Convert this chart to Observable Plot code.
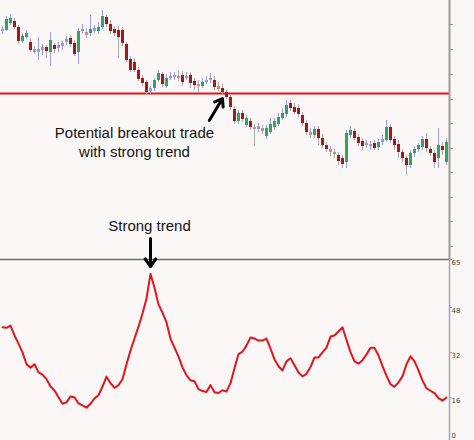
<!DOCTYPE html>
<html><head><meta charset="utf-8">
<script src="https://cdn.jsdelivr.net/npm/d3@7"></script>
<script src="https://cdn.jsdelivr.net/npm/@observablehq/plot@0.6"></script>
<style>
html,body{margin:0;padding:0;background:#fcf7f7;}
#chart{width:474px;height:440px;overflow:hidden;background:#fcf7f7;}
#chart svg{display:block;}
</style></head><body><div id="chart"></div>
<script>
// ---- data (price in chart units, one entry per bar) ----
const open = [
229,230,237,239,233,219,223,218,211,208,
210,213,208,215,212,214,218,222,217,208,
229,228,227,229,229,233,243,236,231,230,
230,216,201,198,190,182,178,169,172,180,
186,174,182,183,184,185,182,185,179,176,
174,178,180,180,174,172,168,163,151,139,
147,135,139,133,131,132,124,128,133,136,
142,146,157,153,152,145,137,128,125,131,
122,115,111,108,105,102,98,125,129,123,
119,115,114,117,113,118,120,133,121,116,
108,102,95,107,111,113,121,111,107,102,
114,98];
const close = [
231,241,242,233,219,224,227,210,208,211,
213,209,220,211,215,217,221,216,206,229,
231,225,231,232,233,244,236,229,227,223,
217,200,190,190,181,177,168,172,180,187,
176,182,184,185,182,178,184,177,175,174,
178,180,182,173,171,168,163,153,139,147,
141,142,133,131,134,129,132,136,139,143,
147,155,152,148,146,137,128,125,131,122,
115,111,108,106,99,96,127,130,122,117,
114,117,116,112,118,121,133,120,115,108,
102,95,107,111,115,121,112,107,98,115,
110,118];
const high = [
234,244,246,242,235,227,230,222,214,223,
216,215,228,217,218,219,224,225,220,232,
236,232,245,235,238,250,245,240,234,234,
233,218,204,202,193,185,180,174,182,190,
188,186,188,188,190,189,188,188,182,180,
182,184,187,184,178,176,170,165,154,150,
150,145,142,136,137,135,135,142,142,147,
152,160,160,157,156,148,140,132,134,134,
126,118,114,111,108,105,130,134,132,126,
122,120,119,120,121,125,140,136,124,120,
111,105,110,114,117,124,127,114,110,132,
118,122];
const low = [
226,229,235,231,216,217,221,208,206,200,
205,202,194,207,208,210,215,213,204,196,
226,222,224,227,226,231,233,226,224,202,
214,198,188,188,179,174,166,166,169,178,
173,172,180,180,179,174,180,172,170,168,
172,176,177,170,169,166,161,150,136,136,
138,133,130,114,128,126,121,126,130,134,
140,143,149,146,143,134,125,122,122,115,
112,108,104,102,95,92,92,122,120,114,
110,112,110,110,110,115,118,117,110,102,
98,85,92,103,108,110,108,104,92,92,
105,95];
const adx = [
41.0,40.8,41.6,38.1,35.2,32.1,27.9,26.7,27.9,25.0,
24.2,22.6,20.0,18.6,16.2,13.9,14.4,16.5,16.2,14.0,
13.3,12.5,13.9,15.8,16.9,20.0,23.5,21.2,19.5,20.5,
22.6,27.9,32.8,37.0,41.2,45.9,51.2,59.9,55.0,49.1,
46.2,42.7,37.0,33.8,30.7,26.8,24.0,22.2,21.9,19.1,
18.4,18.1,20.5,18.0,17.7,18.7,18.2,21.2,26.5,31.5,
32.4,34.5,37.4,37.0,36.3,36.3,37.0,33.4,29.6,27.2,
25.7,28.9,30.0,27.5,25.0,23.6,24.5,26.9,30.3,30.3,
32.1,33.8,37.7,38.1,39.5,41.0,36.5,32.2,28.9,28.1,
29.3,31.4,33.7,33.7,31.0,27.2,23.8,20.8,19.9,21.5,
23.6,27.9,30.7,28.9,25.7,22.1,19.4,18.5,17.7,15.9,
15.0,16.1];
const priceTicks = [14, 39, 63, 88, 112, 137, 161, 186, 211, 236];
const adxTicks = [0, 16, 32, 48, 65];
const breakoutLevel = 167;
const breakoutBar = 55;
const mainNote = "Potential breakout trade\nwith strong trend";
const adxNote = "Strong trend";

// ---- styling ----
const RED = "#e3141b";
const UP = "#35a263", DOWN = "#a3171d", UP_SMALL = "#8d9fd8", DOWN_SMALL = "#c98a8a";
const WICK_UP = "#9c9ce2", WICK_DOWN = "#a9a9a9";
const FONT = "Liberation Sans, Arial, sans-serif";

const bars = open.map((o, i) => ({i, open: o, high: high[i], low: low[i], close: close[i], adx: adx[i]}));
const lastBar = bars.length - 1;
const xDomain = [-0.5, lastBar + 0.75];
const bodyColor = d => {
  const up = d.close >= d.open, small = Math.abs(d.close - d.open) <= 3;
  return up ? (small ? UP_SMALL : UP) : (small ? DOWN_SMALL : DOWN);
};

const priceChart = Plot.plot({
  width: 474, height: 259,
  marginLeft: 0, marginRight: 25, marginTop: 0, marginBottom: 0,
  x: {domain: xDomain, axis: null},
  y: {domain: [1, 260], axis: "right", ticks: priceTicks, tickSize: 3, tickFormat: () => "", label: null},
  color: {type: "identity"},
  style: {background: "transparent", color: "#9a9a9a", overflow: "visible"},
  marks: [
    Plot.ruleY([breakoutLevel], {stroke: RED, strokeWidth: 2}),
    Plot.ruleX(bars, {x: "i", y1: "low", y2: "high", stroke: d => d.close >= d.open ? WICK_UP : WICK_DOWN, strokeWidth: 1}),
    Plot.ruleX(bars, {x: "i", y1: "open", y2: "close", stroke: bodyColor, strokeWidth: 3}),
    Plot.ruleX([xDomain[1]], {stroke: "#9a9a9a", strokeWidth: 2}),
    Plot.arrow([{}], {x1: breakoutBar - 3.3, y1: breakoutLevel - 27, x2: breakoutBar, y2: breakoutLevel - 5,
      stroke: "#000", strokeWidth: 3, headLength: 9, headAngle: 70}),
    Plot.text([mainNote], {x: breakoutBar - 22, y: breakoutLevel - 47.5, text: d => d,
      fontSize: 15, fontFamily: FONT, fill: "#141414", lineHeight: 1.3})
  ]
});

const peakBar = d3.maxIndex(adx);
const peak = adx[peakBar];
const adxChart = Plot.plot({
  width: 474, height: 181,
  marginLeft: 0, marginRight: 25, marginTop: 0, marginBottom: 0,
  x: {domain: xDomain, axis: null},
  y: {domain: [0, 65], range: [183.5, 0], axis: "right", ticks: adxTicks, tickSize: 2, tickFormat: () => "", label: null},
  style: {background: "transparent", color: "#9a9a9a", overflow: "visible"},
  marks: [
    Plot.ruleY([d3.max(adxTicks)], {stroke: "#6b6b6b", strokeWidth: 1.5}),
    Plot.ruleX([xDomain[1]], {stroke: "#a5a5a5", strokeWidth: 1.5}),
    Plot.line(bars, {x: "i", y: "adx", stroke: RED, strokeWidth: 2}),
    Plot.text(adxTicks.filter(d => d > 0), {x: xDomain[1], y: d => d, text: d => String(d), dx: 2, dy: 3,
      textAnchor: "start", fontSize: 7, fontFamily: "DejaVu Sans, sans-serif", fill: "#444"}),
    Plot.text(adxTicks.filter(d => d === 0), {x: xDomain[1], y: d => d, text: d => String(d), dx: 2, dy: -7.5,
      textAnchor: "start", fontSize: 7, fontFamily: "DejaVu Sans, sans-serif", fill: "#444"}),
    Plot.arrow([{}], {x1: peakBar, y1: peak + 12.5, x2: peakBar, y2: peak + 2.6,
      stroke: "#000", strokeWidth: 3, headLength: 8, headAngle: 70}),
    Plot.text([adxNote], {x: peakBar - 0.25, y: peak + 16.8, text: d => d,
      fontSize: 15, fontFamily: FONT, fill: "#141414"})
  ]
});

const chart = document.getElementById("chart");
chart.appendChild(priceChart);
chart.appendChild(adxChart);
</script></body></html>
